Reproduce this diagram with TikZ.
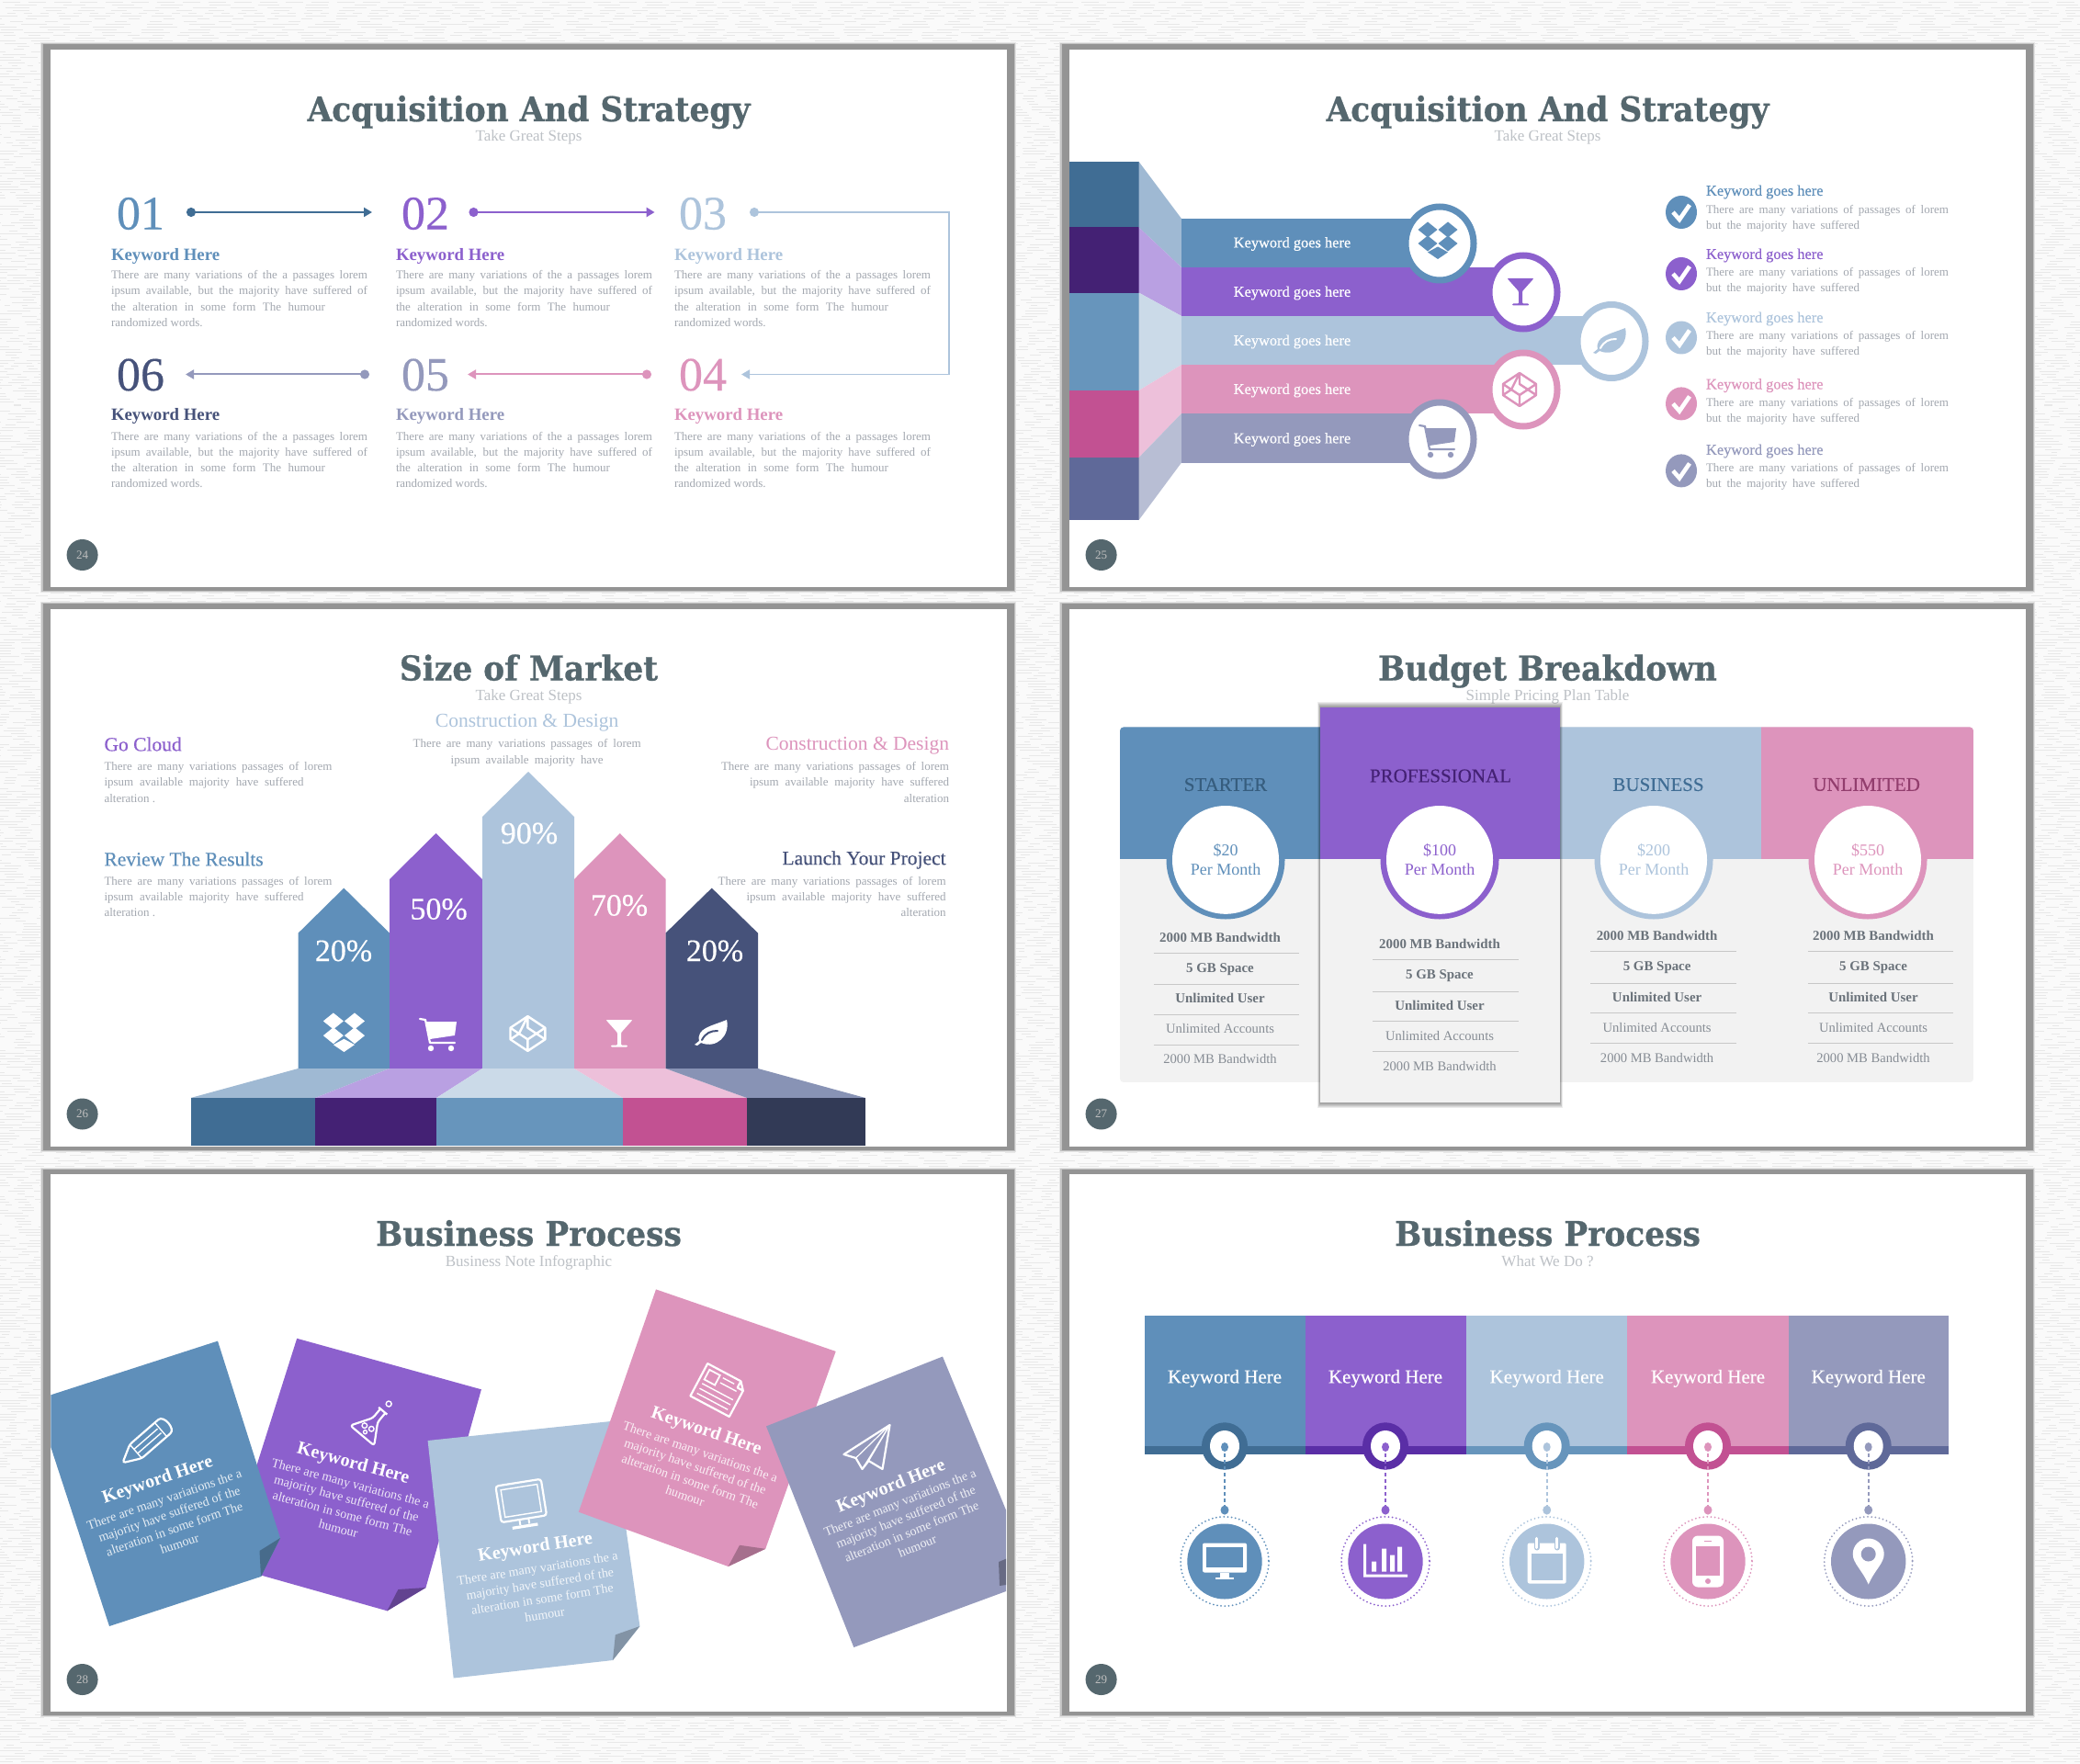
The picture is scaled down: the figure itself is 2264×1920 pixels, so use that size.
\documentclass[tikz,border=0pt]{standalone}
\usepackage{fontspec}
\setmainfont{Liberation Serif}
\newfontfamily\ttlfont{DejaVu Serif}[FakeStretch=0.93,FakeBold=0.7]
\newfontfamily\semi{Liberation Serif}[FakeBold=0.35]
\usetikzlibrary{arrows.meta}
\definecolor{cA}{HTML}{5F8FBA}
\definecolor{cB}{HTML}{8C60CD}
\definecolor{cC}{HTML}{ADC4DC}
\definecolor{cD}{HTML}{DD94BC}
\definecolor{cE}{HTML}{9499BC}
\definecolor{cF}{HTML}{46527A}
\definecolor{dA}{HTML}{406D94}
\definecolor{dB}{HTML}{442174}
\definecolor{dC}{HTML}{6795BC}
\definecolor{dD}{HTML}{C25192}
\definecolor{dE}{HTML}{5F6999}
\definecolor{dF}{HTML}{323A56}
\definecolor{lA}{HTML}{9FB9D3}
\definecolor{lB}{HTML}{B9A0E2}
\definecolor{lC}{HTML}{CBDAE8}
\definecolor{lD}{HTML}{EDC0DA}
\definecolor{lE}{HTML}{B8BED4}
\definecolor{lF}{HTML}{8893B5}
\definecolor{mB}{HTML}{5A2EA6}
\definecolor{ttl}{HTML}{55676E}
\definecolor{subt}{HTML}{BDC1C6}
\definecolor{body}{HTML}{A3A8B0}
\definecolor{gpanel}{HTML}{F2F2F2}
\definecolor{rowd}{HTML}{6A727A}
\definecolor{rowl}{HTML}{868C94}
\newcount\nn
\newcommand\N[3][]{\global\advance\nn by 1 \node[txt,#1] (t\the\nn) at #2 {#3};}
\newcommand\J[2]{\makebox[\dimexpr#1pt/2\relax][s]{#2}}
\newcommand\ico[4]{\begin{scope}[shift={(#1,#2)},scale=#3]#4\end{scope}}
\newcommand\dmd[5]{\fill[#1] (#2-#4,#3)--(#2,#3-#5)--(#2+#4,#3)--(#2,#3+#5)--cycle;}
\newcommand\icoDrop[1]{\dmd{#1}{-11}{-12}{10.5}{8.5}\dmd{#1}{11}{-12}{10.5}{8.5}\dmd{#1}{-11}{3}{10.5}{8.5}\dmd{#1}{11}{3}{10.5}{8.5}
  \fill[#1] (-11,12.5)--(0,6.5)--(11,12.5)--(0,20)--cycle;}
\newcommand\icoGlass[1]{\fill[#1,rounded corners=.5pt] (-14.5,-15)--(14.5,-15)--(2,-1)--(2,12.5)--(9,12.5)--(9,14.5)--(-9,14.5)--(-9,12.5)--(-2,12.5)--(-2,-1)--cycle;}
\newcommand\icoLeaf[2]{\fill[#1] (-13,8) .. controls (-16,-6) and (0,-8) .. (17,-15) .. controls (21,2) and (6,17) .. (-11,10) -- (-15,13) -- (-18,12) -- cycle;
  \draw[#2,line width=1pt,line cap=round] (-10,7) .. controls (-6,-1) and (0,-3) .. (7,-3);}
\newcommand\icoCode[1]{\draw[#1,line width=1.2pt,line join=round] (0,-18)--(18,-6)--(18,6)--(0,18)--(-18,6)--(-18,-6)--cycle (0,-18)--(0,-6)--(9,0)--(0,6)--(-9,0)--cycle (0,18)--(0,6) (-18,-6)--(-9,0)--(-18,6) (18,-6)--(9,0)--(18,6);}
\newcommand\icoCart[1]{\fill[#1] (-13,-14)--(20,-14)--(18,1)--(-9,5)--cycle;
  \draw[#1,line width=1.1pt,line cap=round,line join=round] (-20,-17)--(-14,-16)--(-9,9)--(18,9);
  \fill[#1] (-8,15) ellipse [x radius=3.2,y radius=3.2] (14,15) ellipse [x radius=3.2,y radius=3.2];}
\newcommand\icoCheck{\draw[white,line width=2.3pt,line join=miter] (-9,0)--(-2,8)--(9,-8);}
\newcommand\icoPencil{\begin{scope}[rotate=41]\draw[white,line width=1.1pt,rounded corners=1.5pt] (-14,-10)--(24,-10) .. controls (35,-10) and (35,10) .. (24,10)--(-14,10)--(-33,0)--cycle;
  \draw[white,line width=.7pt] (-14,-10)--(-14,10) (-14,-3)--(20,-3) (-14,3)--(20,3) (22,-10)--(22,10);\end{scope}}
\newcommand\icoFlask{\begin{scope}[rotate=-40]\draw[white,line width=1.1pt,line join=round,rounded corners=1.5pt] (-6,-20)--(6,-20) (3.5,-20)--(3.5,-7)--(17,15)--(-17,15)--(-3.5,-7)--(-3.5,-20);
  \draw[white,line width=.7pt] (-5,5) circle (2.8) (3,3) circle (2.8) (0,10) circle (2);\draw[white,line width=.7pt] (0,-30) circle (3);\end{scope}}
\newcommand\icoMon{\begin{scope}[rotate=9]\draw[white,line width=1.1pt,rounded corners=1.5pt] (-25,-25) rectangle (25,15);\draw[white,line width=.7pt] (-20,-20) rectangle (20,10);
  \draw[white,line width=1pt] (-5,15)--(-5,21) (5,15)--(5,21);\draw[white,line width=1.6pt] (-14,23)--(14,23);\end{scope}}
\newcommand\icoNews{\begin{scope}[rotate=-28]\draw[white,line width=1.1pt,line join=round] (-24,-20)--(17,-20)--(24,-12)--(24,20)--(-24,20)--cycle (17,-20)--(17,-12)--(24,-12);
  \draw[white,line width=.9pt] (-19,-15) rectangle (-6,-3);
  \draw[white,line width=.7pt] (-2,-14)--(12,-14) (-2,-8)--(18,-8) (-19,2)--(19,2) (-19,8)--(19,8) (-19,14)--(19,14);\end{scope}}
\newcommand\icoPlane{\draw[white,line width=1.1pt,line join=round] (23,-25)--(-27,7)--(-14,11)--(-7,23)--(0,14)--(15,23)--cycle;
  \draw[white,line width=.6pt] (23,-25)--(-14,11) (23,-25)--(-7,23) (23,-25)--(0,14);}
\newcommand\icoMonF[1]{\fill[white,rounded corners=1pt] (-24,-20) rectangle (24,12);\fill[#1] (-20,-16) rectangle (20,6);\fill[white] (-5,12) rectangle (5,17);\fill[white] (-10,17) rectangle (10,19.5);}
\newcommand\icoChart[1]{\fill[white] (-24,-19) rectangle (-21,14) (-24,14) rectangle (24,17);\fill[white] (-15,0) rectangle (-10,11) (-4,-14) rectangle (1,11) (5,-7) rectangle (10,11) (13,-16) rectangle (18,11);}
\newcommand\icoCal[1]{\fill[white,rounded corners=1pt] (-21,-20) rectangle (21,24);\fill[#1] (-17,-9) rectangle (17,20);
  \draw[#1,line width=3pt,line cap=round] (-11,-25)--(-11,-15) (11,-25)--(11,-15);\draw[white,line width=1.6pt,line cap=round] (-11,-25)--(-11,-15) (11,-25)--(11,-15);}
\newcommand\icoPhone[1]{\fill[white,rounded corners=3pt] (-17,-28) rectangle (17,28);\fill[#1] (-13,-17) rectangle (13,15);\fill[#1] (0,21.5) circle (3);\fill[#1] (-4,-23) rectangle (4,-21.5);}
\newcommand\icoPin[1]{\fill[white] (0,25) .. controls (-7,9) and (-17,2) .. (-17,-8) .. controls (-17,-17.5) and (-9.4,-25) .. (0,-25) .. controls (9.4,-25) and (17,-17.5) .. (17,-8) .. controls (17,2) and (7,9) .. (0,25) -- cycle;\fill[#1] (0,-8) circle (8);}
\newcommand\slide[5]{\begin{scope}[shift={(#1,#2)}]
  \fill[black!10] (-11,-7.5) rectangle (1051,591);
  \fill[black!24] (-10,-6.5) rectangle (1050,590);
  \fill[black!42] (-8.5,-5.5) rectangle (1048.5,589);
  \fill[white] (0,0) rectangle (1041,585);
  \N[anchor=base]{(520.5,78)}{\ttlfont\bfseries\fontsize{18.5}{20}\selectfont\color{ttl}#3}
  \N[anchor=base]{(520.5,100)}{\fontsize{8.5}{10}\selectfont\color{subt}#4}
  \node[pagec] (p#5) at (34.6,550) {};
  \N{(34.6,550)}{\fontsize{6.5}{7}\selectfont\color{black!25}#5}
\end{scope}}
\newcommand\parA[2]{\N[bodytxt,anchor=north west,align=left]{(#1,#2-6)}{\J{279}{There are many variations of the a passages lorem}\\\J{279}{ipsum available, but the majority have suffered of}\\\J{233}{the alteration in some form The humour}\\randomized words.}}
\newcommand\rows[4]{%
  \N[anchor=base]{(#1,1025+#4)}{\fontsize{7.45}{9}\selectfont\bfseries\color{rowd}2000 MB Bandwidth}
  \N[anchor=base]{(#1,1058+#4)}{\fontsize{7.45}{9}\selectfont\bfseries\color{rowd}5 GB Space}
  \N[anchor=base]{(#1,1091.5+#4)}{\fontsize{7.45}{9}\selectfont\bfseries\color{rowd}Unlimited User}
  \N[anchor=base]{(#1,1124.5+#4)}{\fontsize{7.3}{9}\selectfont\color{rowl}Unlimited Accounts}
  \N[anchor=base]{(#1,1157.5+#4)}{\fontsize{7.3}{9}\selectfont\color{rowl}2000 MB Bandwidth}
  \foreach \ly in {1037,1071.5,1104,1137}{\draw[black!22,line width=.5pt] (#2,\ly+#4) -- (#3,\ly+#4);}}
\tikzset{
  txt/.style={inner sep=0pt,outer sep=0pt},
  bodytxt/.style={text=body,font=\fontsize{6.5}{8.6}\selectfont},
  pagec/.style={shape=circle,fill=ttl,draw=none,inner sep=0pt,minimum size=17pt},
  arr/.style={line width=1pt,{Circle[length=5pt]}-{Triangle[length=4.5pt,width=5pt]}},
  ntitle/.style={txt,text=white,font=\bfseries\fontsize{10}{12}\selectfont},
  npara/.style={txt,text=white,text opacity=.85,align=center,font=\fontsize{7}{8.5}\selectfont},
  ringb/.style={line width=3.5pt,fill=white},
}
\begin{document}
\begin{tikzpicture}[x=.5pt,y=-.5pt]
\useasboundingbox (0,0) rectangle (2264,1920);
% ---- linen background
\fill[black!2] (0,0) rectangle (2264,1920);
\pgfmathsetseed{7}
\foreach \yy in {0,3,...,1920}{
  \pgfmathsetmacro\da{3+rnd*14}\pgfmathsetmacro\db{3+rnd*12}\pgfmathsetmacro\dc{rnd*30}
  \draw[black!9,line width=.5pt,dash pattern=on \da pt off \db pt,dash phase=\dc pt] (0,\yy)--(2264,\yy);
}
\slide{55}{54}{Acquisition And Strategy}{Take Great Steps}{24}
\slide{1164}{54}{Acquisition And Strategy}{Take Great Steps}{25}
\slide{55}{662.5}{Size of Market}{Take Great Steps}{26}
\slide{1164}{662.5}{Budget Breakdown}{Simple Pricing Plan Table}{27}
\slide{55}{1278}{Business Process}{Business Note Infographic}{28}
\slide{1164}{1278}{Business Process}{What We Do ?}{29}
% ---- slide 24
\foreach \num/\cx/\kx/\ny/\ky/\py/\col in {01/153/121/232.5/279/300.6/cA,02/463/431/232.5/279/300.6/cB,03/765/734/232.5/279/300.6/cC,06/153/121/408/453/476/cF,05/463/431/408/453/476/cE,04/765/734/408/453/476/cD}{
  \N{(\cx,\ny)}{\fontsize{26}{27}\selectfont\semi\color{\col}\num}
  \N[anchor=west]{(\kx,\ky)}{\fontsize{9.4}{10}\selectfont\bfseries\color{\col}Keyword Here}
  \parA{\kx}{\py}
}
\coordinate (a1s) at (203,231);\coordinate (a1e) at (405,231);
\coordinate (a2s) at (510.5,231);\coordinate (a2e) at (712.6,231);
\coordinate (a3s) at (816,231);\coordinate (a3b) at (1033,231);\coordinate (a3c) at (1033,407.5);\coordinate (a3e) at (807,407.5);
\coordinate (a5s) at (709,407.5);\coordinate (a5e) at (509,407.5);
\coordinate (a6s) at (402,407.5);\coordinate (a6e) at (202,407.5);
\draw[arr,dA] (a1s)--(a1e);
\draw[arr,cB,line width=1.3pt] (a2s)--(a2e);
\draw[arr,cC,line width=.8pt] (a3s)--(a3b)--(a3c)--(a3e);
\draw[arr,cD] (a5s)--(a5e);
\draw[arr,cE] (a6s)--(a6e);
% ---- slide 25
\foreach \ya/\yb/\col in {176/247.5/dA,247.5/318.6/dB,318.6/425/dC,425/498/dD,498/566/dE}{\fill[\col] (1164,\ya) rectangle (1239.6,\yb);}
\foreach \ya/\yb/\yc/\yd/\col in {176/247.5/291/238/lA,247.5/318.6/344/291/lB,318.6/425/397/344/lC,425/498/450/397/lD,498/566/503.5/450/lE}{\fill[\col] (1239.6,\ya)--(1239.6,\yb)--(1286,\yc)--(1286,\yd)--cycle;}
\foreach \ya/\yb/\xe/\col in {238/291/1567/cA,397/450/1658/cD,344/397/1754/cC,291/344/1658/cB,450/503.5/1567/cE}{\fill[\col] (1286,\ya) rectangle (\xe,\yb);}
\foreach \yy in {265.5,319,372,425,478.5}{\N[anchor=west]{(1342.7,\yy)}{\fontsize{8.2}{10}\selectfont\semi\color{white}Keyword goes here}}
\path[draw=cC,ringb] (1754,371.5) ellipse [x radius=37,y radius=40];
\path[draw=cB,ringb] (1658,318) ellipse [x radius=37,y radius=40];
\path[draw=cD,ringb] (1658,424) ellipse [x radius=37,y radius=40];
\path[draw=cA,ringb] (1567,265) ellipse [x radius=37,y radius=40];
\path[draw=cE,ringb] (1567,478) ellipse [x radius=37,y radius=40];
\ico{1565}{262}{1}{\icoDrop{cA}}
\ico{1655}{318}{1}{\icoGlass{cB}}
\ico{1752}{372}{1}{\icoLeaf{cC}{white}}
\ico{1654}{424}{1}{\icoCode{cD}}
\ico{1565}{480}{1}{\icoCart{cE}}
\foreach \cy/\hy/\la/\lb/\col in {231/209/229/246/cA,298/278/297/314/cB,367.5/347/366.5/383.6/cC,439.4/419.6/439/456/cD,512.4/491/510.6/527.7/cE}{
  \fill[\col] (1830,\cy) ellipse [x radius=17,y radius=18];
  \ico{1830}{\cy}{1}{\icoCheck}
  \N[anchor=west]{(1857,\hy)}{\fontsize{8.2}{10}\selectfont\semi\color{\col}Keyword goes here}
  \N[anchor=west]{(1857,\la)}{\fontsize{6.5}{8}\selectfont\color{body}\J{264}{There are many variations of passages of lorem}}
  \N[anchor=west]{(1857,\lb)}{\fontsize{6.5}{8}\selectfont\color{body}\J{167}{but the majority have suffered}}
}
% ---- slide 26
\foreach \xa/\xb/\ya/\yb/\col in {324.6/424/966.6/1015.6/cA,424/525/907/957/cB,525/625/840/889/cC,625/724.5/907/957/cD,724.5/825/966.6/1015.6/cF}{
  \fill[\col] (\xa,1163)--(\xa,\yb)--({(\xa+\xb)/2},\ya)--(\xb,\yb)--(\xb,1163)--cycle;}
\foreach \xx/\yy/\tt in {374/1035/20,477.6/989.5/50,576/907/90,674/985.5/70,778/1035/20}{\N{(\xx,\yy)}{\fontsize{17}{18}\selectfont\semi\color{white}\tt\%}}
\ico{374.4}{1124}{1.05}{\icoDrop{white}}
\ico{477}{1126}{1}{\icoCart{white}}
\ico{574.4}{1125}{1.05}{\icoCode{white}}
\ico{674}{1125}{1}{\icoGlass{white}}
\ico{774}{1125}{1}{\icoLeaf{white}{cF}}
\foreach \ta/\tb/\ba/\bb/\cl/\cd in {324.6/424/207.5/343/lA/dA,424/525/343/475/lB/dB,525/625/475/678/lC/dC,625/724.5/678/813/lD/dD,724.5/825/813/942/lF/dF}{
  \fill[\cl] (\ta,1163)--(\tb,1163)--(\bb,1195)--(\ba,1195)--cycle;
  \fill[\cd] (\ba,1195) rectangle (\bb,1247);
}
\N[anchor=west]{(113.5,810)}{\fontsize{10.75}{12}\selectfont\semi\color{cB}Go Cloud}
\N[anchor=west]{(113.5,935)}{\fontsize{10.75}{12}\selectfont\semi\color{cA}Review The Results}
\N{(573.7,786.4)}{\fontsize{10.75}{12}\selectfont\color{cC}Construction \& Design}
\N[anchor=east]{(1033,811.7)}{\fontsize{10.75}{12}\selectfont\color{cD}Construction \& Design}
\N[anchor=east]{(1029.6,936)}{\fontsize{10.75}{12}\selectfont\semi\color{cF}Launch Your Project}
\foreach \yy in {835.6,960}{
 \N[bodytxt,anchor=north west,align=left]{(113.5,\yy-6)}{\J{248}{There are many variations passages of lorem}\\\J{217}{ipsum available majority have suffered}\\alteration .}}
\N[bodytxt,anchor=north,align=center]{(573.7,804.7)}{\J{248}{There are many variations passages of lorem}\\\J{166}{ipsum available majority have}}
\foreach \xx/\yy in {1033/835.6,1029.6/960}{
 \N[bodytxt,anchor=north east,align=right]{(\xx,\yy-6)}{\J{248}{There are many variations passages of lorem}\\\J{217}{ipsum available majority have suffered}\\alteration}}
% ---- slide 27
\begin{scope}
 \clip[rounded corners=2pt] (1219,791.4) rectangle (2148,1178);
 \fill[gpanel] (1219,791.4) rectangle (2148,1178);
 \fill[cA] (1219,791.4) rectangle (1437.4,935.3);
 \fill[cC] (1697.7,791.4) rectangle (1916.6,935.3);
 \fill[cD] (1916.6,791.4) rectangle (2148,935.3);
\end{scope}
\foreach \i in {6,5,4,3,2,1}{\fill[black,opacity=.075] (1437.4-\i*.5,769.7-\i) rectangle (1697.7+\i*.5,1200+\i);}
\fill[gpanel] (1437.4,769.7) rectangle (1697.7,1200);
\fill[cB] (1437.4,769.7) rectangle (1697.7,935.3);
\foreach \cx/\col/\lab in {1334/cA/20,1567/cB/100,1800/cC/200,2033/cD/550}{
  \fill[\col] (\cx,936) ellipse [x radius=64.5,y radius=64.5];
  \fill[white] (\cx,935.9) ellipse [x radius=58,y radius=58.9];
  \N{(\cx,926)}{\fontsize{9}{10}\selectfont\color{\col}\$\lab}
  \N{(\cx,946.5)}{\fontsize{9}{10}\selectfont\color{\col}Per Month}
}
\N{(1334,854)}{\fontsize{10.5}{12}\selectfont\semi\color{dA!85!black}STARTER}
\N{(1568,844.5)}{\fontsize{10.5}{12}\selectfont\semi\color{dB}PROFESSIONAL}
\N{(1805,854)}{\fontsize{10.5}{12}\selectfont\semi\color{dA}BUSINESS}
\N{(2031.6,854)}{\fontsize{10.5}{12}\selectfont\semi\color{dD!75!black}UNLIMITED}
\rows{1328}{1255.7}{1414}{0}
\rows{1567}{1494}{1653}{7.5}
\rows{1803.6}{1731}{1890}{-1.5}
\rows{2039}{1967.8}{2126}{-1.5}
% ---- slide 28
\fill[cB] (323.2,1456.8)--(523.9,1512.3)--(463.5,1728)--(421.4,1753.3)--(245,1703.5)--cycle;
\fill[cB!70!black] (463.5,1728)--(433.4,1730)--(421.4,1753.3)--cycle;
\fill[cA] (55.3,1518.3)--(237,1459.6)--(305,1674)--(284,1716)--(119,1770)--(55.3,1575)--cycle;
\fill[cA!75!black] (305,1674)--(282.5,1688)--(284,1716)--cycle;
\fill[cC] (465.6,1568)--(664.9,1547)--(696.4,1770)--(667,1807)--(493.7,1826.5)--cycle;
\fill[cC!75!black] (696.4,1770)--(669.8,1779.4)--(667,1807)--cycle;
\fill[cD] (714,1403.4)--(909.7,1470.9)--(833.2,1685.8)--(792.6,1705)--(629.8,1645.7)--cycle;
\fill[cD!75!black] (833.2,1685.8)--(805,1681.8)--(792.6,1705)--cycle;
\fill[cE] (1026,1476.5)--(834,1552.4)--(929.3,1793)--(1095,1732)--(1095,1643.6)--cycle;
\fill[cE!70!black] (1095,1696.7)--(1087,1700)--(1088,1726)--(1095,1725)--cycle;
\foreach \kx/\ky/\px/\py/\rr in {171.7/1611.5/187/1656/19,384.3/1593.4/375/1639/-15,582.8/1685/589/1732/9,768.7/1558.5/754/1604/-19,970/1618.7/989/1659/22}{
  \global\advance\nn by 1
  \node[ntitle,rotate=\rr] (k\the\nn) at (\kx,\ky) {Keyword Here};
  \global\advance\nn by 1
  \node[npara,rotate=\rr] (k\the\nn) at (\px,\py) {There are many variations the a\\majority have suffered of the\\alteration in some form The\\humour};
}
\ico{158.4}{1570.5}{1}{\icoPencil}
\ico{403.9}{1551}{1}{\icoFlask}
\ico{568}{1638.4}{1}{\icoMon}
\ico{782}{1513}{1}{\icoNews}
\ico{945.5}{1576}{1}{\icoPlane}
% ---- slide 29
\foreach \xa/\xb/\col/\cd in {1246/1420.6/cA/dA,1420.6/1596/cB/mB,1596/1771.4/cC/dC,1771.4/1946.7/cD/dD,1946.7/2121.4/cE/dE}{
  \fill[\col] (\xa,1432) rectangle (\xb,1574);
  \fill[\cd] (\xa,1574) rectangle (\xb,1583.4);
}
\foreach \cx/\col/\cd/\ii in {1333/cA/dA/1,1508/cB/mB/2,1683.7/cC/dC/3,1859/cD/dD/4,2033.7/cE/dE/5}{
  \N{(\cx,1500.4)}{\fontsize{10.5}{12}\selectfont\semi\color{white}Keyword Here}
  \fill[\cd] (\cx,1574) ellipse [x radius=25,y radius=25.7];
  \fill[white] (\cx,1574) ellipse [x radius=16,y radius=17];
  \coordinate (top\ii) at (\cx,1575);
  \coordinate (dot\ii) at (\cx,1643.6);
  \draw[\col,line width=1pt,dash pattern=on 2pt off 1.5pt] (top\ii)--(dot\ii);
  \fill[\col] (top\ii) ellipse [x radius=4,y radius=5];
  \fill[\col] (dot\ii) ellipse [x radius=4.5,y radius=5];
  \fill[\col] (\cx,1699.5) ellipse [x radius=40.7,y radius=41];
  \draw[\col,line width=1pt,line cap=round,dash pattern=on 0pt off 2.1pt] (\cx,1699.5) ellipse [x radius=48,y radius=48.6];
}
\ico{1333}{1699.5}{1}{\icoMonF{cA}}
\ico{1508}{1699.5}{1}{\icoChart{cB}}
\ico{1683.7}{1699.5}{1}{\icoCal{cC}}
\ico{1859}{1699.5}{1}{\icoPhone{cD}}
\ico{2033.7}{1699.5}{1}{\icoPin{cE}}
\end{tikzpicture}
\end{document}
